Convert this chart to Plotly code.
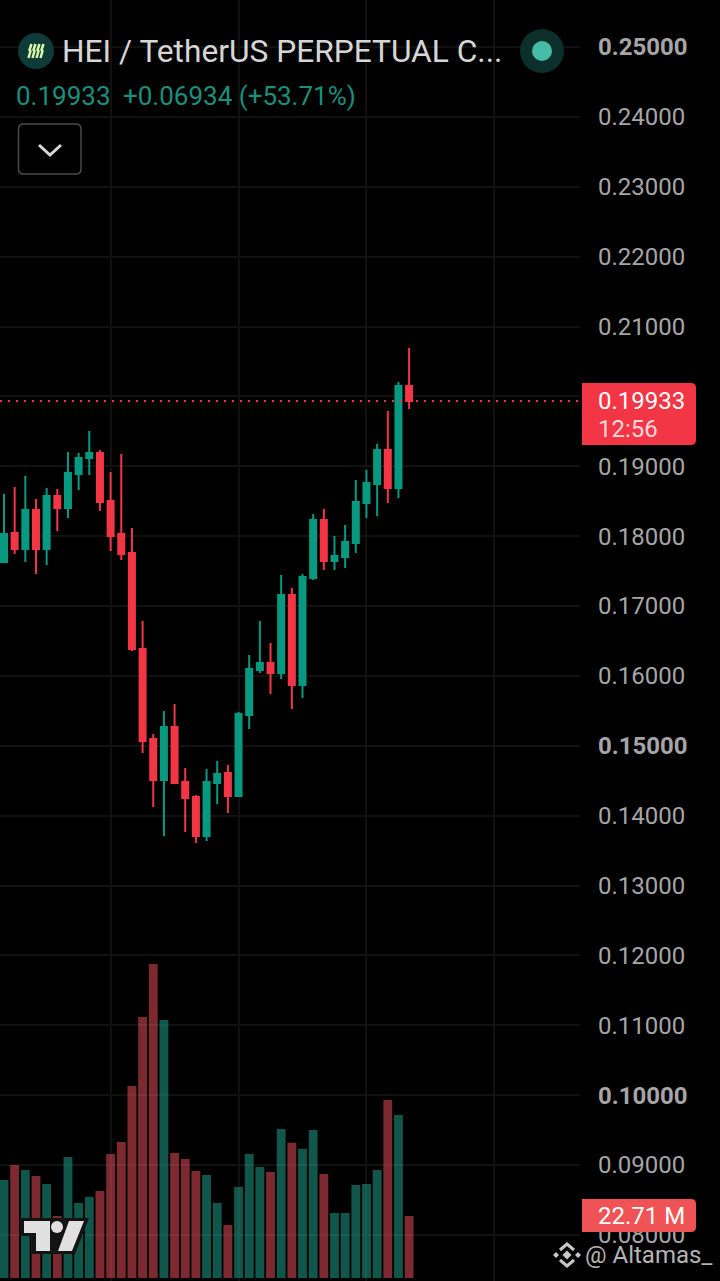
import plotly.graph_objects as go

# ── 1. Data ───────────────────────────────────────
bar_idx = list(range(39))

open_px = [0.17630, 0.18045, 0.17816, 0.18374, 0.17816, 0.18575, 0.18403, 0.18890, 0.19119, 0.19190,
           0.18503, 0.18031, 0.17759, 0.16385, 0.15097, 0.14510, 0.15269, 0.14482, 0.14267, 0.13709,
           0.14467, 0.14611, 0.14281, 0.15441, 0.16085, 0.16185, 0.16042, 0.17158, 0.15870, 0.17401,
           0.18231, 0.17645, 0.17702, 0.17902, 0.18475, 0.18746, 0.19233, 0.18689, 0.20149]
high_px = [0.18603, 0.18704, 0.18861, 0.18532, 0.18689, 0.18675, 0.19204, 0.19190, 0.19505, 0.19233,
           0.18918, 0.19176, 0.18117, 0.16786, 0.15169, 0.15498, 0.15598, 0.14682, 0.14296, 0.14668,
           0.14782, 0.14725, 0.15484, 0.16299, 0.16786, 0.16471, 0.17444, 0.17258, 0.17458, 0.18317,
           0.18389, 0.18002, 0.18160, 0.18804, 0.18947, 0.19319, 0.19791, 0.20206, 0.20693]
low_px = [0.17630, 0.17745, 0.17630, 0.17458, 0.17587, 0.18074, 0.18260, 0.18661, 0.18875, 0.18360,
          0.17788, 0.17659, 0.16357, 0.14897, 0.14124, 0.13709, 0.14453, 0.13766, 0.13609, 0.13637,
          0.14167, 0.14038, 0.14281, 0.15240, 0.16042, 0.15741, 0.15956, 0.15527, 0.15684, 0.17373,
          0.17516, 0.17516, 0.17544, 0.17759, 0.18260, 0.18289, 0.18475, 0.18546, 0.19820]
close_px = [0.18031, 0.17816, 0.18374, 0.17816, 0.18575, 0.18403, 0.18904, 0.19119, 0.19190, 0.18489,
            0.18002, 0.17745, 0.16385, 0.15069, 0.14510, 0.15269, 0.14467, 0.14253, 0.13709, 0.14482,
            0.14596, 0.14281, 0.15455, 0.16099, 0.16185, 0.16042, 0.17158, 0.15870, 0.17416, 0.18231,
            0.17645, 0.17716, 0.17916, 0.18489, 0.18761, 0.19233, 0.18689, 0.20149, 0.19933]
volume_m = [35.9, 41.4, 39.6, 37.4, 34.4, 22.7, 44.3, 27.5, 29.7, 31.9,
            45.4, 49.8, 70.3, 95.6, 115.0, 94.5, 45.8, 43.6, 39.2, 37.7,
            27.5, 19.4, 33.3, 45.4, 40.7, 38.8, 54.6, 49.5, 47.3, 54.2,
            38.1, 23.8, 23.8, 34.1, 34.4, 39.6, 65.2, 59.7, 22.71]

price_ticks = [0.25, 0.24, 0.23, 0.22, 0.21, 0.20, 0.19, 0.18, 0.17, 0.16, 0.15,
               0.14, 0.13, 0.12, 0.11, 0.10, 0.09, 0.08]
bold_ticks = [0.25, 0.15, 0.10]
time_ticks = [10, 22, 34, 46]
last_price = 0.19933

# ── 2. Colours ────────────────────────────────────
UP = '#089981'
DOWN = '#F23645'
GRID = '#111111'
AXIS_TXT = '#a6a6a6'
FONT = 'Roboto'

W, H = 720, 1281


def px(x):
    return x / W


def py(y):
    return 1 - y / H


def path(points, close=True):
    d = 'M' + ' L'.join(f'{px(x):.5f},{py(y):.5f}' for x, y in points)
    return d + (' Z' if close else '')


def rounded_tag(x0, y0, x1, y1, r=5):
    # left side square, right side rounded like the price scale tags
    return (f'M{px(x0):.5f},{py(y0):.5f} L{px(x1 - r):.5f},{py(y0):.5f} '
            f'Q{px(x1):.5f},{py(y0):.5f} {px(x1):.5f},{py(y0 + r):.5f} '
            f'L{px(x1):.5f},{py(y1 - r):.5f} '
            f'Q{px(x1):.5f},{py(y1):.5f} {px(x1 - r):.5f},{py(y1):.5f} '
            f'L{px(x0):.5f},{py(y1):.5f} Z')


def rounded_box(x0, y0, x1, y1, r=5):
    return (f'M{px(x0 + r):.5f},{py(y0):.5f} L{px(x1 - r):.5f},{py(y0):.5f} '
            f'Q{px(x1):.5f},{py(y0):.5f} {px(x1):.5f},{py(y0 + r):.5f} '
            f'L{px(x1):.5f},{py(y1 - r):.5f} '
            f'Q{px(x1):.5f},{py(y1):.5f} {px(x1 - r):.5f},{py(y1):.5f} '
            f'L{px(x0 + r):.5f},{py(y1):.5f} '
            f'Q{px(x0):.5f},{py(y1):.5f} {px(x0):.5f},{py(y1 - r):.5f} '
            f'L{px(x0):.5f},{py(y0 + r):.5f} '
            f'Q{px(x0):.5f},{py(y0):.5f} {px(x0 + r):.5f},{py(y0):.5f} Z')


def paper_shape(kind, **kw):
    return dict(type=kind, xref='paper', yref='paper', **kw)


def circle(cx, cy, r, color):
    return paper_shape('circle', x0=px(cx - r), x1=px(cx + r), y0=py(cy + r), y1=py(cy - r),
                       fillcolor=color, line_width=0)


def text(x, y, s, size, color, anchor='left'):
    return dict(xref='paper', yref='paper', x=px(x), y=py(y), text=s, showarrow=False,
                xanchor=anchor, yanchor='middle', borderpad=0,
                font=dict(family=FONT, size=size, color=color))


# ── 3. Traces ─────────────────────────────────────
vol_colors = ['rgba(34,171,148,0.5)' if c >= o else 'rgba(247,82,95,0.5)'
              for o, c in zip(open_px, close_px)]

fig = go.Figure()
fig.add_trace(go.Candlestick(
    x=bar_idx, open=open_px, high=high_px, low=low_px, close=close_px,
    increasing=dict(line=dict(color=UP, width=2), fillcolor=UP),
    decreasing=dict(line=dict(color=DOWN, width=2), fillcolor=DOWN),
    whiskerwidth=0, showlegend=False, yaxis='y'
))
fig.add_trace(go.Bar(
    x=bar_idx, y=volume_m, marker=dict(color=vol_colors, line_width=0),
    showlegend=False, yaxis='y2'
))

# ── 4. Overlay shapes (header icons, tags, logos) ─
shapes = [
    dict(type='line', xref='paper', yref='y', x0=0, x1=px(580), y0=last_price, y1=last_price,
         line=dict(color=DOWN, width=2, dash='2px,6px')),
    # price and volume tags
    paper_shape('path', path=rounded_tag(582, 383, 696, 445), fillcolor=DOWN, line_width=0),
    paper_shape('path', path=rounded_tag(582, 1199, 696, 1232), fillcolor='#EF5356', line_width=0),
    # symbol icon
    circle(36, 51, 18, '#0E3B38'),
    # live status dot
    circle(542, 51, 22, '#0B2F2B'),
    circle(542, 51, 10, '#45BDA6'),
    # collapse button
    paper_shape('path', path=rounded_box(18.5, 124, 81, 174),
                line=dict(color='#4A4A4A', width=1.5)),
    paper_shape('path', path=path([(39, 145), (50, 155), (61, 145)], close=False),
                line=dict(color='#D8D8D8', width=3)),
    # TradingView logo
    paper_shape('path', path=path([(20, 1218), (89, 1218), (75, 1254), (32, 1254), (32, 1236), (20, 1236)]),
                fillcolor='#131313', line_width=0),
    paper_shape('path', path=path([(24, 1221), (50, 1221), (50, 1251), (36, 1251), (36, 1233), (24, 1233)]),
                fillcolor='#E0E0E0', line_width=0),
    paper_shape('path', path=path([(69, 1221), (84, 1221), (72, 1251), (58, 1251)]),
                fillcolor='#E0E0E0', line_width=0),
    circle(57, 1227, 6, '#E0E0E0'),
]

# icon bars
for x in [28.5, 32.5, 36.5, 40.5]:
    shapes.append(paper_shape('path', path=path([(x, 58), (x + 2, 51), (x + 1, 50), (x + 3, 44)], close=False),
                              line=dict(color='#D6F7A5', width=2.5)))

# Binance mark
for cx, cy, r in [(567, 1255, 4.5), (556, 1255, 3), (578, 1255, 3)]:
    shapes.append(paper_shape('path', path=path([(cx - r, cy), (cx, cy - r), (cx + r, cy), (cx, cy + r)]),
                              fillcolor='#C8C8C8', line_width=0))
for pts in [[(560, 1250), (567, 1244), (574, 1250)], [(560, 1260), (567, 1266), (574, 1260)]]:
    shapes.append(paper_shape('path', path=path(pts, close=False), line=dict(color='#C8C8C8', width=3)))

annotations = [
    text(61, 51, 'HEI / TetherUS PERPETUAL C...', 31.7, '#D6D6D6'),
    text(15, 96, '0.19933', 26, '#1B8F7C'),
    text(122, 96, '+0.06934 (+53.71%)', 26, '#1B8F7C'),
    text(597, 401, '0.19933', 24, '#FFFFFF'),
    text(597, 429, '12:56', 24, '#FBD7DA'),
    text(641, 1216, '22.71 M', 24, '#FFFFFF', anchor='center'),
    text(584, 1255, '@ Altamas_', 24, '#B4B4B4'),
]

tick_text = [f'<b>{t:.5f}</b>' if t in bold_ticks else f'{t:.5f}' for t in price_ticks]

# ── 5. Layout ─────────────────────────────────────
fig.update_layout(
    width=W, height=H, autosize=False,
    margin=dict(l=0, r=0, t=0, b=0),
    paper_bgcolor='#000000', plot_bgcolor='#000000',
    bargap=0.17, boxgap=0.25, boxgroupgap=0.25,
    xaxis=dict(domain=[0, px(580)], range=[-0.375, 54.03], tickvals=time_ticks, showticklabels=False,
               showgrid=True, gridcolor=GRID, gridwidth=2, zeroline=False, showline=False,
               rangeslider=dict(visible=False)),
    yaxis=dict(range=[0.07341, 0.25673], side='right', tickvals=price_ticks, ticktext=tick_text,
               ticks='', ticklabelstandoff=17,
               tickfont=dict(family=FONT, size=24, color=AXIS_TXT),
               showgrid=True, gridcolor=GRID, gridwidth=2, zeroline=False, showline=False),
    yaxis2=dict(range=[-1.1, 468.1], overlaying='y', visible=False, showgrid=False, zeroline=False),
    shapes=shapes, annotations=annotations,
    hovermode=False
)

fig.write_html("out.html", config=dict(displayModeBar=False),
               post_script="document.body.style.margin='0';")
